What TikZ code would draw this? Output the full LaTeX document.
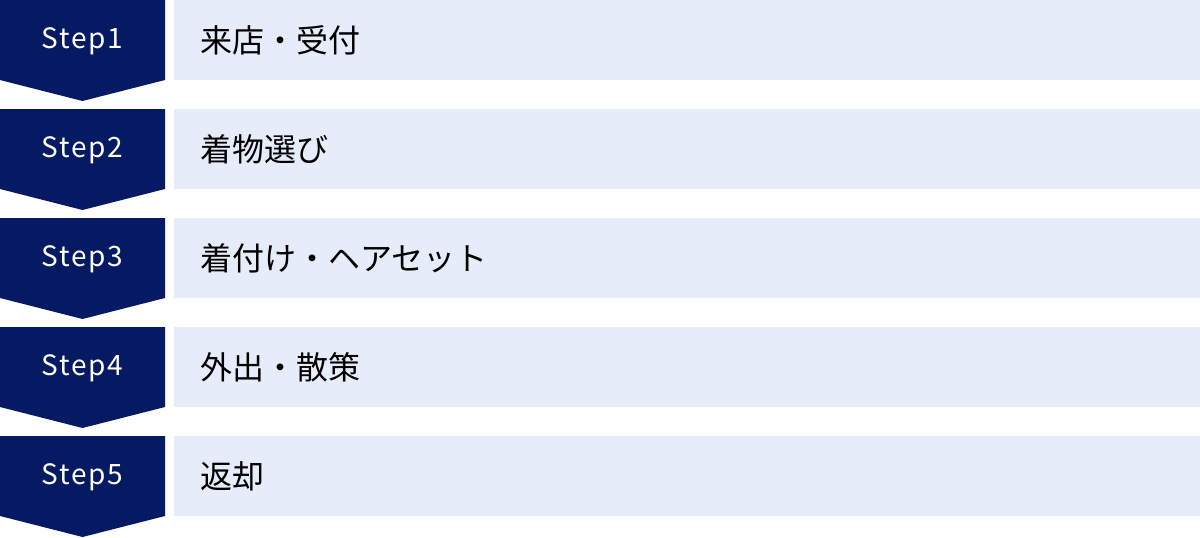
\documentclass[tikz,border=0pt]{standalone}
\usepackage{fontspec}
\newfontfamily\jpfont{Noto Sans CJK JP}
\newfontfamily\stepfont[LetterSpace=6]{Noto Sans CJK JP}
\definecolor{navy}{HTML}{061A63}
\definecolor{pale}{HTML}{E6ECF9}
\tikzset{
  stepshape/.style={fill=navy, draw=none},
  stepbar/.style={fill=pale, draw=none},
  steplabel/.style={text=white, font=\stepfont\fontsize{28}{32}\selectfont, inner sep=0pt},
  stepitem/.style={text=black, font=\jpfont\fontsize{32}{38}\selectfont, inner sep=0pt, anchor=west}
}
\begin{document}
\begin{tikzpicture}[x=1pt,y=-1pt]
\useasboundingbox (0,0) rectangle (1200,538);
\foreach \i/\t in {1/来店・受付, 2/着物選び, 3/着付け・ヘアセット, 4/外出・散策, 5/返却}{
  \pgfmathsetmacro{\top}{(\i-1)*109}
  \fill[stepshape] (0,\top) -- (165,\top) -- (165,\top+80) -- (82.5,\top+101) -- (0,\top+80) -- cycle;
  \fill[stepbar] (174,\top) rectangle (1200,\top+80);
  \node[steplabel] (step\i) at (82.5,\top+41.5) {Step\i};
  \node[stepitem] (item\i) at (200,\top+40) {\t};
}
\end{tikzpicture}
\end{document}
